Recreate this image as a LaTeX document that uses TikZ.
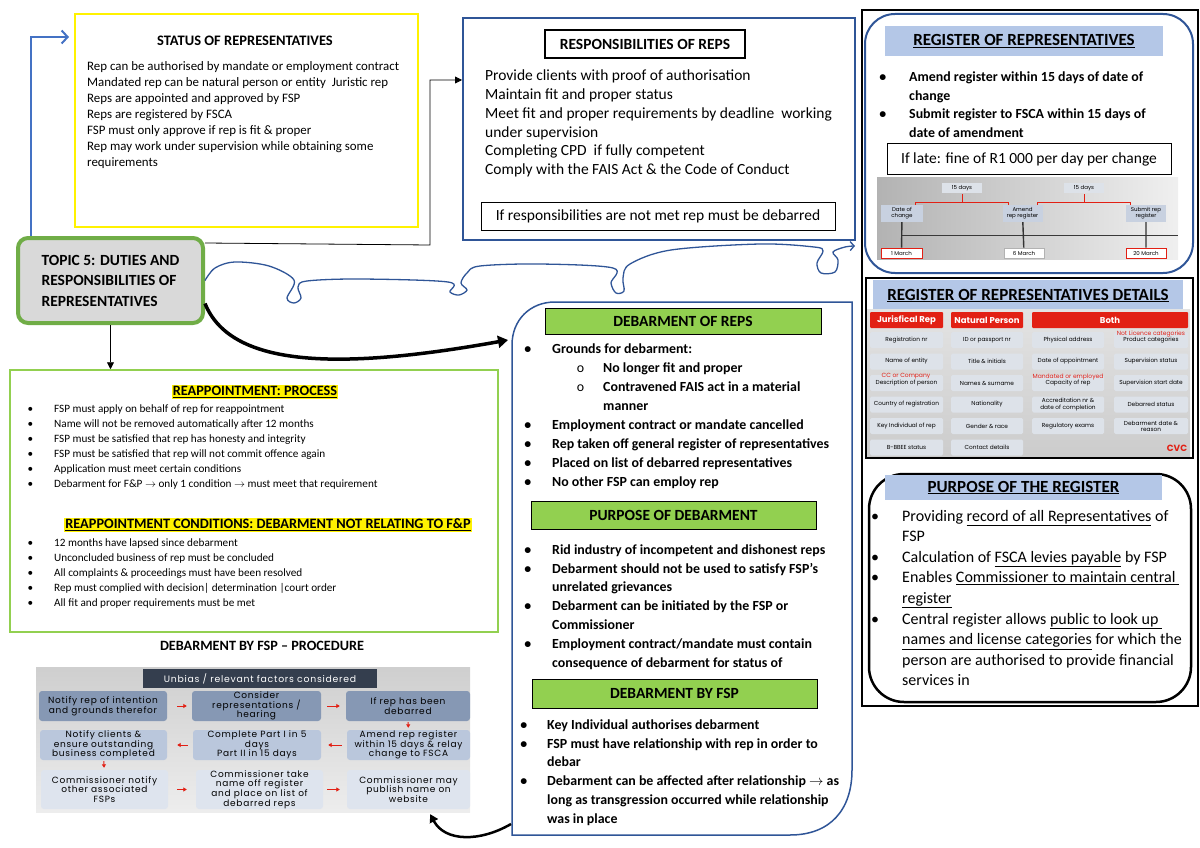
\documentclass[tikz,border=0pt]{standalone}
\usepackage{fontspec}
\setmainfont{Carlito}
\newfontfamily\gothic{Poppins}
\newfontfamily\gothicwide[LetterSpace=8]{Poppins}
\usetikzlibrary{positioning,arrows.meta,calc}
\pgfdeclarelayer{bg}
\pgfsetlayers{bg,main}
\definecolor{repblue}{RGB}{47,85,151}
\definecolor{linkblue}{RGB}{68,114,196}
\definecolor{topicgreen}{RGB}{112,173,71}
\definecolor{lightgreen}{RGB}{146,208,80}
\definecolor{bandblue}{RGB}{180,199,231}
\definecolor{slidered}{RGB}{226,32,20}
\definecolor{slidedark}{RGB}{52,62,78}
\definecolor{tileA}{RGB}{134,152,180}
\definecolor{tileB}{RGB}{186,199,220}
\definecolor{tileC}{RGB}{222,228,238}
\definecolor{cellgray}{RGB}{221,226,233}
\definecolor{tlblue}{RGB}{200,209,224}
\setlength{\fboxsep}{1pt}
\newcommand{\bul}[1][21pt]{\makebox[0pt][r]{\textbullet\hspace{#1}}}
\newcommand{\subbul}{\makebox[0pt][r]{\mdseries o\hspace{19pt}}}
\begin{document}
\begin{tikzpicture}[x=1pt,y=-1pt,every node/.style={inner sep=0pt}]
  \tikzstyle{textblock}=[anchor=north west,align=left]
  \tikzstyle{greenhead}=[draw,line width=0.6pt,fill=lightgreen,font=\fontsize{15.5}{17}\selectfont\bfseries]
  \tikzstyle{band}=[fill=bandblue,font=\fontsize{17}{19}\selectfont\bfseries]
  \tikzstyle{tile}=[rounded corners=3pt,minimum height=30pt,align=center,font=\gothicwide\fontsize{9}{9.6}\selectfont]
  \tikzstyle{redarrow}=[draw=slidered,line width=1pt,-{Triangle[length=3.5pt,width=4pt]}]
  \tikzstyle{cell}=[fill=cellgray,rounded corners=1.5pt,minimum height=16pt,align=center,font=\gothic\fontsize{5.8}{6.2}\selectfont]
  \tikzstyle{redhead}=[fill=slidered,text=white,minimum height=16pt,rounded corners=1pt,font=\gothic\bfseries\fontsize{8.5}{9}\selectfont]
  \tikzstyle{rednote}=[text=slidered,font=\gothic\fontsize{6}{6.5}\selectfont]
  \tikzstyle{tlbox}=[minimum height=10pt,align=center,font=\gothic\fontsize{5.5}{5.9}\selectfont]

  \useasboundingbox (0,0) rectangle (1200,848);

  \node[draw=yellow,line width=2pt,minimum width=343pt,minimum height=213pt] (status) at (246.5,120.5) {};
  \node[font=\fontsize{14.5}{16}\selectfont\bfseries] (statustitle) at (245,41) {STATUS OF REPRESENTATIVES};
  \node[textblock,font=\fontsize{12.9}{16}\selectfont] (statustext) at (87,58.7) {\strut Rep can be authorised by mandate or employment contract\\
    Mandated rep can be natural person or entity\ \ Juristic rep\\
    Reps are appointed and approved by FSP\\
    Reps are registered by FSCA\\
    FSP must only approve if rep is fit \& proper\\
    Rep may work under supervision while obtaining some\\
    requirements};

  \node[draw=topicgreen,line width=4pt,fill=gray!30,rounded corners=10pt,minimum width=185pt,minimum height=85pt,align=left,font=\fontsize{15.5}{20.5}\selectfont\bfseries] (topic) at (110.5,280.5) {TOPIC 5: DUTIES AND\\RESPONSIBILITIES OF\\REPRESENTATIVES};

  \node[draw=repblue,line width=2pt,minimum width=392pt,minimum height=222pt] (resp) at (659,129) {};
  \node[draw,line width=2.2pt,minimum width=200pt,minimum height=28pt,font=\fontsize{15.5}{17}\selectfont\bfseries] (resptitle) at (645,44) {RESPONSIBILITIES OF REPS};
  \node[textblock,font=\fontsize{15.5}{18.8}\selectfont] (resptext) at (485,67.4) {\strut Provide clients with proof of authorisation\\
    Maintain fit and proper status\\
    Meet fit and proper requirements by deadline\ \ working\\
    under supervision\\
    Completing CPD\ \ if fully competent\\
    Comply with the FAIS Act \& the Code of Conduct};
  \node[draw,line width=1pt,minimum width=354pt,minimum height=28pt,font=\fontsize{15.5}{17}\selectfont] (respnote) at (658,216) {If responsibilities are not met rep must be debarred};

  \coordinate (bend) at (430,245);
  \draw[linkblue,line width=2pt,-{Straight Barb[length=6pt,width=13pt,line width=2pt]}] ([xshift=15pt]topic.north west) |- ([xshift=-5pt,yshift=-24pt]status.north west);
  \draw[line width=0.8pt,-{Triangle[length=7pt,width=7pt]}] ([yshift=-7pt]topic.north east) -- (bend) |- ([yshift=-63pt]resp.north west);

  \node[draw=lightgreen,line width=1.5pt,minimum width=488pt,minimum height=262pt] (reapp) at (254,501) {};
  \draw[line width=0.8pt,-{Triangle[length=7pt,width=7pt]}] (topic.south) -- (topic.south |- reapp.north);
  \node[font=\fontsize{14.3}{16}\selectfont\bfseries] (reapptitle) at (255,392) {\colorbox{yellow}{\underline{REAPPOINTMENT: PROCESS}}};
  \node[textblock,font=\fontsize{11.2}{15}\selectfont] (reapptext) at (54,401.9) {\strut\bul FSP must apply on behalf of rep for reappointment\\
    \bul Name will not be removed automatically after 12 months\\
    \bul FSP must be satisfied that rep has honesty and integrity\\
    \bul FSP must be satisfied that rep will not commit offence again\\
    \bul Application must meet certain conditions\\
    \bul Debarment for F\&P $\rightarrow$ only 1 condition $\rightarrow$ must meet that requirement};
  \node[font=\fontsize{14.3}{16}\selectfont\bfseries] (condtitle) at (268,525) {\colorbox{yellow}{\underline{REAPPOINTMENT CONDITIONS: DEBARMENT NOT RELATING TO F\&P}}};
  \node[textblock,font=\fontsize{11.2}{15}\selectfont] (condtext) at (54,535.9) {\strut\bul 12 months have lapsed since debarment\\
    \bul Unconcluded business of rep must be concluded\\
    \bul All complaints \& proceedings must have been resolved\\
    \bul Rep must complied with decision| determination |court order\\
    \bul All fit and proper requirements must be met};

  \node[font=\fontsize{14.2}{16}\selectfont\bfseries] (proctitle) at (262,646) {DEBARMENT BY FSP -- PROCEDURE};
  \node[top color=gray!38,bottom color=gray!14,minimum width=434pt,minimum height=145pt] (procimg) at (253,739.5) {};
  \node[fill=slidedark,text=white,minimum width=234pt,minimum height=19pt,font=\gothicwide\fontsize{9.3}{10}\selectfont] (prochead) at (260,678.5) {Unbias / relevant factors considered};
  \node[tile,fill=tileA,minimum width=128pt] (t11) at (103,706) {Notify rep of intention\\and grounds therefor};
  \node[tile,fill=tileA,minimum width=129pt] (t12) at (256.5,706) {Consider\\representations /\\hearing};
  \node[tile,fill=tileA,minimum width=124pt] (t13) at (408,706) {If rep has been\\debarred};
  \node[tile,fill=tileB,minimum width=127pt] (t21) at (103.5,745) {Notify clients \&\\ensure outstanding\\business completed};
  \node[tile,fill=tileB,minimum width=128pt] (t22) at (257,745) {Complete Part I in 5\\days\\Part II in 15 days};
  \node[tile,fill=tileB,minimum width=123pt] (t23) at (408.5,745) {Amend rep register\\within 15 days \& relay\\change to FSCA};
  \node[tile,fill=tileC,minimum width=127pt,minimum height=39pt] (t31) at (104.5,789.5) {Commissioner notify\\other associated\\FSPs};
  \node[tile,fill=tileC,minimum width=127pt,minimum height=39pt] (t32) at (259.5,789.5) {Commissioner take\\name off register\\and place on list of\\debarred reps};
  \node[tile,fill=tileC,minimum width=123pt,minimum height=39pt] (t33) at (408.5,789.5) {Commissioner may\\publish name on\\website};
  \draw[redarrow,shorten <=10pt,shorten >=5pt] (t11) -- (t12);
  \draw[redarrow,shorten <=6pt,shorten >=6pt] (t12) -- (t13);
  \draw[redarrow,shorten <=1pt,shorten >=2pt] (t13) -- (t23);
  \draw[redarrow,shorten <=5pt,shorten >=7pt] (t23) -- (t22);
  \draw[redarrow,shorten <=5pt,shorten >=10pt] (t22) -- (t21);
  \draw[redarrow,shorten <=1pt,shorten >=2pt] (t21) -- (t31);
  \draw[redarrow,shorten <=9pt,shorten >=9pt] (t31) -- (t32);
  \draw[redarrow,shorten <=4pt,shorten >=7pt] (t32) -- (t33);

  \draw[repblue,line width=1.5pt] (555,302) -- (852,302) -- (852,770) .. controls (852,810) and (830,835) .. (790,835) -- (512,835) -- (512,345) .. controls (512,320) and (530,302) .. (555,302);
  \node[greenhead,minimum width=276pt,minimum height=26pt] (debhead1) at (683,321) {DEBARMENT OF REPS};
  \node[textblock,font=\fontsize{13.9}{19}\selectfont\bfseries] (debtext1) at (552,339.9) {\strut\bul Grounds for debarment:\\
    \hspace*{51pt}\subbul No longer fit and proper\\
    \hspace*{51pt}\subbul Contravened FAIS act in a material\\
    \hspace*{51pt}manner\\
    \bul Employment contract or mandate cancelled\\
    \bul Rep taken off general register of representatives\\
    \bul Placed on list of debarred representatives\\
    \bul No other FSP can employ rep};
  \node[greenhead,minimum width=285pt,minimum height=28pt] (debhead2) at (673.5,515) {PURPOSE OF DEBARMENT};
  \node[textblock,font=\fontsize{13.9}{18.8}\selectfont\bfseries] (debtext2) at (552,541) {\strut\bul Rid industry of incompetent and dishonest reps\\
    \bul Debarment should not be used to satisfy FSP’s\\
    unrelated grievances\\
    \bul Debarment can be initiated by the FSP or\\
    Commissioner\\
    \bul Employment contract/mandate must contain\\
    consequence of debarment for status of};
  \node[greenhead,minimum width=285pt,minimum height=29pt] (debhead3) at (674.5,693.5) {DEBARMENT BY FSP};
  \node[textblock,font=\fontsize{13.9}{18.8}\selectfont\bfseries] (debtext3) at (547,716) {\strut\bul[20pt]Key Individual authorises debarment\\
    \bul[20pt]FSP must have relationship with rep in order to\\
    debar\\
    \bul[20pt]Debarment can be affected after relationship $\rightarrow$ as\\
    long as transgression occurred while relationship\\
    was in place};

  \coordinate (debarin) at (508,340);
  \coordinate (debarout) at (511,824);
  \draw[line width=3.5pt,-{Triangle[length=10pt,width=12pt]}] ([yshift=-23pt]topic.east) .. controls (230,365) and (330,372) .. (debarin);
  \draw[line width=2.5pt,-{Triangle[length=8pt,width=9pt]}] (debarout) .. controls (480,842) and (445,842) .. ([xshift=-40pt,yshift=-2pt]procimg.south east);

  \node[draw,line width=1.5pt,minimum width=336pt,minimum height=696pt] (rightframe) at (1030,358) {};
  \node[draw=repblue,line width=2pt,rounded corners=30pt,minimum width=328pt,minimum height=259pt] (regbox) at (1029,143.5) {};
  \node[band,minimum width=278pt,minimum height=30pt] (regband) at (1024,41) {\underline{REGISTER OF REPRESENTATIVES}};
  \node[textblock,font=\fontsize{13.9}{18.7}\selectfont\bfseries] (regtext) at (909,68.1) {\strut\bul[23pt]Amend register within 15 days of date of\\
    change\\
    \bul[23pt]Submit register to FSCA within 15 days of\\
    date of amendment};
  \node[draw,line width=1pt,minimum width=284pt,minimum height=31pt,font=\fontsize{15.5}{17}\selectfont] (finebox) at (1029,159.5) {If late: fine of R1 000 per day per change};

  \node[left color=gray!60,right color=gray!12,minimum width=301pt,minimum height=81pt] (tlimg) at (1027.5,218.5) {};
  \node[tlbox,fill=cellgray,minimum width=40pt] (tlgap1) at (962,188.5) {15 days};
  \node[tlbox,fill=cellgray,minimum width=40pt] (tlgap2) at (1084,188.5) {15 days};
  \draw[slidered,line width=0.7pt] (915,206) -- (915,202) -- (1008,202) -- (1008,206) (962,202) -- (tlgap1.south);
  \draw[slidered,line width=0.7pt] (1037,206) -- (1037,202) -- (1130,202) -- (1130,206) (1084,202) -- (tlgap2.south);
  \node[tlbox,fill=tlblue,minimum width=42pt,minimum height=17pt] (tlstart) at (902,213.5) {Date of\\change};
  \node[tlbox,fill=tlblue,minimum width=40pt,minimum height=17pt] (tlamend) at (1022.5,213.5) {Amend\\rep register};
  \node[tlbox,fill=tlblue,minimum width=40pt,minimum height=17pt] (tlsubmit) at (1146,213.5) {Submit rep\\register};
  \node[tlbox,fill=white,draw=slidered,line width=0.6pt,minimum width=41pt] (tlday1) at (901.5,253) {1 March};
  \node[tlbox,fill=white,draw=gray!60,line width=0.6pt,minimum width=40pt] (tlday2) at (1024,253) {6 March};
  \node[tlbox,fill=white,draw=slidered,line width=0.6pt,minimum width=40pt] (tlday3) at (1146,253) {20 March};
  \coordinate (tlaxis) at (1178,235);
  \draw[gray!45!black,line width=0.8pt] (tlstart.south |- tlaxis) -- (tlaxis);
  \draw[gray!40!black,line width=1.4pt] (tlstart) -- (tlday1) (tlamend) -- (tlday2) (tlsubmit) -- (tlday3);

  \node[draw,line width=2.5pt,minimum width=327pt,minimum height=180pt] (details) at (1029.5,368) {};
  \node[band,minimum width=310pt,minimum height=31pt] (detband) at (1028,295.5) {\underline{REGISTER OF REPRESENTATIVES DETAILS}};
  \node[top color=gray!22,bottom color=gray!40,minimum width=323pt,minimum height=147pt] (tabimg) at (1028.5,382.5) {};
  \node[redhead,minimum width=73pt] (hjur) at (906.5,320) {Jurisfical Rep};
  \node[redhead,minimum width=72pt] (hnat) at (987,320) {Natural Person};
  \node[redhead,minimum width=156pt] (hboth) at (1110,320) {Both};
  \foreach \txt [count=\i] in {Registration nr,Name of entity,Description of person,Country of registration,Key Individual of rep,B-BBEE status}
    \node[cell,minimum width=73pt] (cj\i) at (906.5,318.5+21.5*\i) {\txt};
  \foreach \txt [count=\i] in {ID or passport nr,Title \& initials,Names \& surname,Nationality,Gender \& race,Contact details}
    \node[cell,minimum width=72pt] (cn\i) at (987,318.5+21.5*\i) {\txt};
  \foreach \txt [count=\i] in {Physical address,Date of appointment,Capacity of rep,{Accreditation nr \&\\date of completion},Regulatory exams}
    \node[cell,minimum width=72pt] (cb\i) at (1068,318.5+21.5*\i) {\txt};
  \foreach \txt [count=\i] in {Product categories,Supervision status,Supervision start date,Debarred status,{Debarment date \&\\reason}}
    \node[cell,minimum width=74pt] (cc\i) at (1151,318.5+21.5*\i) {\txt};
  \node[rednote] (ccnote) at (906,376) {CC or Company};
  \node[rednote] (mandnote) at (1068,377) {Mandated or employed};
  \node[rednote] (licnote) at (1151,334) {Not Licence categories};
  \node[text=slidered,font=\gothic\bfseries\fontsize{9}{9}\selectfont] (cvclogo) at (1177,448) {CVC};

  \node[draw,line width=2.5pt,rounded corners=35pt,minimum width=322pt,minimum height=228pt] (purpose) at (1030,588) {};
  \node[band,minimum width=277pt,minimum height=25pt] (purband) at (1023.5,487.5) {\underline{PURPOSE OF THE REGISTER}};
  \node[textblock,font=\fontsize{16}{20.6}\selectfont] (purtext) at (902,506.4) {\strut\bul[23pt]Providing \underline{record of all Representatives} of\\
    FSP\\
    \bul[23pt]Calculation of \underline{FSCA levies payable} by FSP\\
    \bul[23pt]Enables \underline{Commissioner to maintain central\ }\\
    \underline{register}\\
    \bul[23pt]Central register allows \underline{public to look up\ }\\
    \underline{names and license categories} for which the\\
    person are authorised to provide financial\\
    services in};

  \coordinate (sqend) at (855,246);
  \draw[repblue,line width=1.3pt,-{Straight Barb[length=4pt,width=9pt]}] plot[smooth,tension=0.55] coordinates {(topic.east) (215,268) (235,262) (269,266) (294,280) (287,298) (294,303) (301,298) (298,287) (307,281) (360,279) (448,282) (450,292) (459,295) (467,290) (461,283) (467,273) (480,266) (540,264) (613,268) (611,283) (616,293) (624,291) (623,278) (630,264) (671,250) (760,244) (814,247) (823,251) (817,263) (821,273) (835,272) (838,260) (833,252) (845,247) (sqend)};
\end{tikzpicture}
\end{document}
